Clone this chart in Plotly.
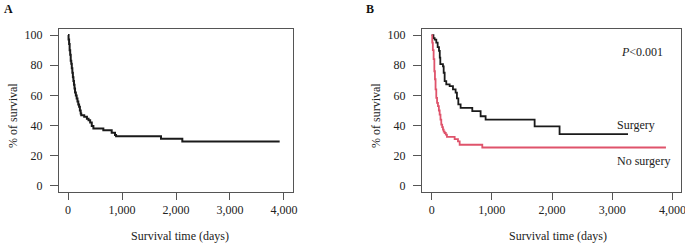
import plotly.graph_objects as go

# Panel A: overall Kaplan-Meier survival
a_time = [0, 10, 20, 30, 40, 50, 60, 70, 80, 90, 100, 110, 120, 130, 145, 160, 175, 190,
          205, 220, 235, 245, 300, 350, 380, 410, 440, 470, 654, 809, 870, 890, 1722, 2117, 3920]
a_surv = [100, 97, 94, 90, 87, 83, 81, 78, 75, 72, 69.5, 67, 64.5, 62, 60, 58, 56, 54,
          52.5, 50, 48, 46.9, 45.8, 44.5, 43.5, 42, 39.8, 38, 36.9, 35.3, 33.8, 32.9, 31.3, 29.5, 29.5]

# Panel B: surgery vs no surgery
s_time = [0, 30, 50, 77, 100, 122, 135, 144, 188, 200, 216, 243, 299, 354, 398, 420, 443,
          481, 675, 813, 896, 1710, 2124, 3260]
s_surv = [100, 98, 97, 95, 92, 89.5, 85, 80.7, 79.3, 75, 69.5, 67.3, 66.2, 64, 61.8, 58, 54,
          51.8, 49.6, 46.2, 44, 39.5, 34.4, 34.4]

n_time = [0, 10, 20, 33, 45, 55, 65, 77, 90, 105, 120, 133, 147, 160, 175, 188, 200, 216,
          235, 254, 382, 437, 465, 841, 3890]
n_surv = [100, 95, 90, 84, 76, 70.7, 64, 58.4, 55, 52.9, 50, 47.3, 44, 40.7, 39, 37.3, 36,
          35.1, 34, 32.5, 31.1, 29.6, 27.3, 25.5, 25.5]

x_ticks = [0, 1000, 2000, 3000, 4000]
y_ticks = [0, 20, 40, 60, 80, 100]

BLACK = "#1a1a1a"
RED = "#DF536B"
FONT = "Liberation Serif"
FS = 12
# figure slightly wider than the 685px window so the last tick label is not hidden
W, H = 700, 245

fig = go.Figure()
fig.add_trace(go.Scatter(x=a_time, y=a_surv, mode="lines", line=dict(color=BLACK, width=2, shape="hv"),
                         xaxis="x", yaxis="y", showlegend=False, hoverinfo="skip"))
fig.add_trace(go.Scatter(x=s_time, y=s_surv, mode="lines", line=dict(color=BLACK, width=1.8, shape="hv"),
                         xaxis="x2", yaxis="y2", name="Surgery", showlegend=False, hoverinfo="skip"))
fig.add_trace(go.Scatter(x=n_time, y=n_surv, mode="lines", line=dict(color=RED, width=1.8, shape="hv"),
                         xaxis="x2", yaxis="y2", name="No surgery", showlegend=False, hoverinfo="skip"))

axis_common = dict(showline=True, mirror=True, linecolor="#555", linewidth=1,
                   ticks="outside", ticklen=7, tickcolor="#555", tickwidth=1,
                   showgrid=False, zeroline=False, automargin=False,
                   tickfont=dict(family=FONT, size=FS, color="#222"))

xcommon = dict(axis_common, tickvals=x_ticks, tickformat=",d")
ycommon = dict(axis_common, tickvals=y_ticks, range=[-4, 104], ticklen=8, ticklabelstandoff=5)


def px(x):
    return x / W


def py(y):
    return 1 - y / H


text_font = dict(family=FONT, size=FS, color="#222")

fig.update_layout(
    width=W, height=H,
    margin=dict(l=0, r=0, t=0, b=0),
    paper_bgcolor="white", plot_bgcolor="white",
    xaxis=dict(xcommon, domain=[px(59), px(293)], range=[-167, 4167], anchor="y"),
    yaxis=dict(ycommon, domain=[py(192), py(29)], anchor="x"),
    xaxis2=dict(xcommon, domain=[px(422), px(681)], range=[-160, 4140], anchor="y2"),
    yaxis2=dict(ycommon, domain=[py(192), py(29)], anchor="x2"),
    annotations=[
        dict(text="<b>A</b>", xref="paper", yref="paper", x=px(2), y=py(0), xanchor="left", yanchor="top",
             showarrow=False, font=dict(family=FONT, size=12, color="#111")),
        dict(text="<b>B</b>", xref="paper", yref="paper", x=px(364), y=py(0), xanchor="left", yanchor="top",
             showarrow=False, font=dict(family=FONT, size=12, color="#111")),
        dict(text="Survival time (days)", xref="paper", yref="paper", x=px(180), y=py(236),
             xanchor="center", yanchor="middle", showarrow=False, font=text_font),
        dict(text="Survival time (days)", xref="paper", yref="paper", x=px(558), y=py(236),
             xanchor="center", yanchor="middle", showarrow=False, font=text_font),
        dict(text="% of survival", xref="paper", yref="paper", x=px(13), y=py(116), textangle=-90,
             xanchor="center", yanchor="middle", showarrow=False, font=text_font),
        dict(text="% of survival", xref="paper", yref="paper", x=px(376), y=py(116), textangle=-90,
             xanchor="center", yanchor="middle", showarrow=False, font=text_font),
        dict(text="<i>P</i><0.001", xref="x2", yref="y2", x=3500, y=89, showarrow=False, font=text_font),
        dict(text="Surgery", xref="x2", yref="y2", x=3400, y=40.7, showarrow=False, font=text_font),
        dict(text="No surgery", xref="x2", yref="y2", x=3520, y=16.7, showarrow=False, font=text_font),
    ],
)

fig.write_html("out.html", config={"displayModeBar": False},
               post_script="document.body.style.margin='0';document.body.style.overflow='hidden';")
